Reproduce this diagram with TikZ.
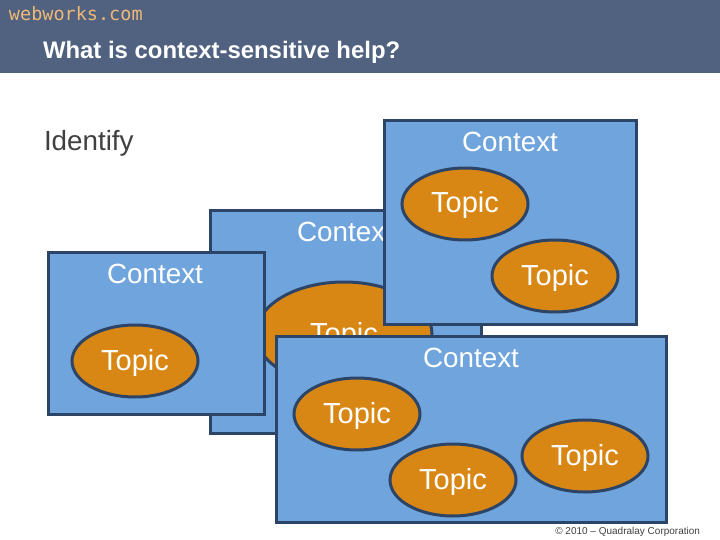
\documentclass[tikz,border=0pt]{standalone}
\usepackage{fontspec}
\setmainfont{Liberation Sans}
\newfontfamily\logofont{DejaVu Sans Mono}
\usetikzlibrary{shapes.geometric,positioning}
\definecolor{headblue}{HTML}{50627F}
\definecolor{panelblue}{HTML}{6FA5DC}
\definecolor{edgeblue}{HTML}{2C4468}
\definecolor{topicorange}{HTML}{D98714}
\definecolor{logoorange}{HTML}{EDB878}

\begin{document}
\begin{tikzpicture}
				[x=1pt, y=-1pt, inner sep=0pt, outer sep=0pt,
				panel/.style		= {draw=edgeblue, fill=panelblue, line width=3pt, rectangle, anchor=north west},
				topic/.style		= {draw=edgeblue, fill=topicorange, line width=3pt, ellipse, minimum width=126pt, minimum height=72pt, text=white, text height=22pt, text depth=4pt, font=\fontsize{29}{30}\selectfont},
				label/.style		= {text=white, font=\fontsize{27.8}{30}\selectfont}]

				\useasboundingbox (0,0) rectangle (720,540);
				\node [fill=white, rectangle, anchor=north west, minimum width=720pt, minimum height=540pt] at (0,0) (page) {};
				\node [fill=headblue, rectangle, anchor=north west, minimum width=720pt, minimum height=73pt] at (0,0) (head) {};
				\node [text=logoorange, font=\logofont\fontsize{18.5}{20}\selectfont, anchor=west] at (9,14) (logo) {webworks.com};
				\node [text=white, font=\fontsize{23.9}{26}\selectfont\bfseries, anchor=west] at (43,52) (title) {What is context-sensitive help?};
				\node [text=black!75, font=\fontsize{27.8}{30}\selectfont, anchor=west] at (44,143) (identify) {Identify};

				\node [panel, minimum width=270.5pt, minimum height=222.5pt] at (210.5,210.5) (panelback) {};
				\node [label] at (345,232) (contextback) {Context};
				\node [topic, minimum width=176pt, minimum height=104pt] at (344,334) (topicback) {Topic};

				\node [panel, minimum width=215.5pt, minimum height=161.5pt] at (48.5,252.5) (panelleft) {};
				\node [label] at (155,274) (contextleft) {Context};
				\node [topic] at (135,361) (topicleft) {Topic};

				\node [panel, minimum width=252pt, minimum height=203pt] at (384.5,121) (paneltop) {};
				\node [label] at (510,142) (contexttop) {Context};
				\node [topic] at (465,204) (topictopa) {Topic};
				\node [topic] at (555,276) (topictopb) {Topic};

				\node [panel, minimum width=389.5pt, minimum height=186pt] at (276.5,336.5) (panelfront) {};
				\node [label] at (471,358) (contextfront) {Context};
				\node [topic] at (357,414) (topicfronta) {Topic};
				\node [topic] at (453,480) (topicfrontb) {Topic};
				\node [topic] at (585,456) (topicfrontc) {Topic};

				\node [text=black!75, font=\fontsize{10}{11}\selectfont, anchor=east] at (700,531.5) (copyright) {© 2010 – Quadralay Corporation};
\end{tikzpicture}
\end{document}
